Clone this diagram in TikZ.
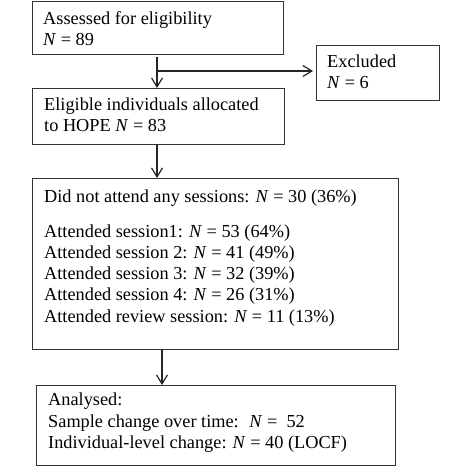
\documentclass[tikz,border=0pt]{standalone}
\usepackage{fontspec}
\setmainfont{Liberation Serif}
\usetikzlibrary{arrows.meta}
\begin{document}
\begin{tikzpicture}[x=1pt,y=-1pt,
  box/.style={draw=black!80, line width=1.2pt, rectangle, inner sep=0pt, anchor=north west},
  txt/.style={inner sep=0pt, anchor=base west, font=\fontsize{18.3}{21}\selectfont},
  arr/.style={draw=black!85, line width=1.2pt, -{Straight Barb[length=9pt,width=11pt,line width=1.2pt]}},
  ln/.style={draw=black!85, line width=1.2pt}]
\useasboundingbox (0,0) rectangle (474,474);
\fill[white] (0,0) rectangle (474,474);
% boxes
\node[box, minimum width=251pt, minimum height=53pt] (b1) at (32,0.6) {};
\node[box, minimum width=123pt, minimum height=55pt] (ex) at (316,45) {};
\node[box, minimum width=252pt, minimum height=56pt] (b2) at (32,88) {};
\node[box, minimum width=366pt, minimum height=171pt] (b3) at (32,178) {};
\node[box, minimum width=359pt, minimum height=80pt] (b4) at (36,385) {};
% texts
\node[txt] (t1a) at (43,24) {Assessed for eligibility};
\node[txt] (t1b) at (43,45) {\textit{N} = 89};
\node[txt] (tea) at (327,67) {Excluded};
\node[txt] (teb) at (327,88) {\textit{N} = 6};
\node[txt] (t2a) at (44,110) {Eligible individuals allocated};
\node[txt] (t2b) at (44,131) {to HOPE \textit{N} = 83};
\node[txt] (t3a) at (44,202) {Did not attend any sessions: \textit{N} = 30 (36\%)};
\node[txt] (t3b) at (44,237) {Attended session1: \textit{N} = 53 (64\%)};
\node[txt] (t3c) at (44,258) {Attended session 2: \textit{N} = 41 (49\%)};
\node[txt] (t3d) at (44,279) {Attended session 3: \textit{N} = 32 (39\%)};
\node[txt] (t3e) at (44,300) {Attended session 4: \textit{N} = 26 (31\%)};
\node[txt] (t3f) at (44,322) {Attended review session: \textit{N} = 11 (13\%)};
\node[txt] (t4a) at (48,405) {Analysed:};
\node[txt] (t4b) at (48,427) {Sample change over time:~ \textit{N} = ~52};
\node[txt] (t4c) at (48,448) {Individual-level change: \textit{N} = 40 (LOCF)};
% connectors
\coordinate (s1) at (157,57);
\coordinate (j1) at (157,71);
\coordinate (e1) at (313,71);
\draw[arr] (s1) -- (s1 |- b2.north);
\draw[arr] (j1) -- (e1);
\coordinate (s2) at (157,144);
\draw[arr] (s2) -- (s2 |- b3.north);
\coordinate (s3) at (162,349);
\draw[arr] (s3) -- (s3 |- b4.north);
\end{tikzpicture}
\end{document}
